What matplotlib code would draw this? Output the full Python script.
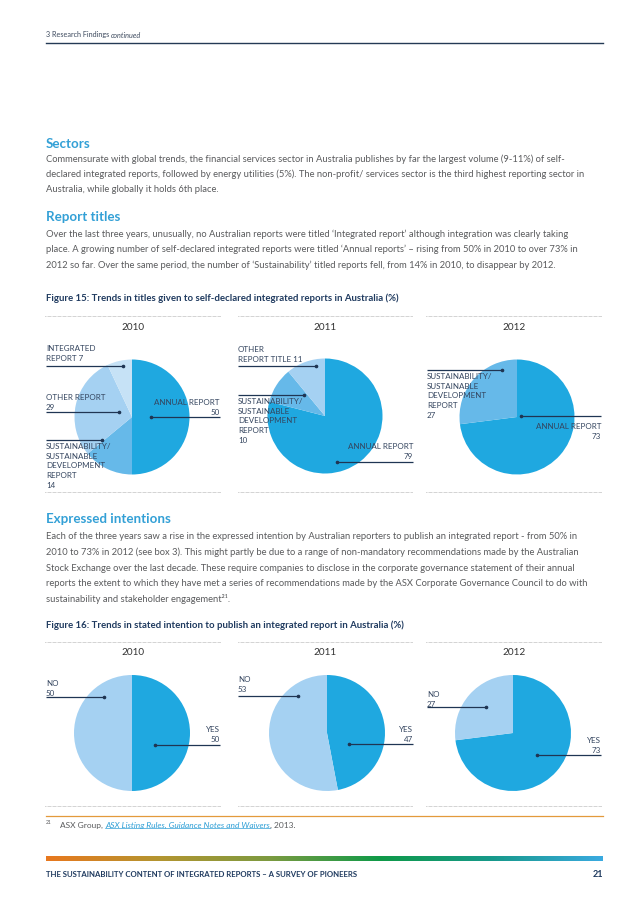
import matplotlib
matplotlib.use("Agg")
import matplotlib.pyplot as plt
from matplotlib.colors import LinearSegmentedColormap
import numpy as np

# ---------------------------------------
# data
# ---------------------------------------
years = ["2010", "2011", "2012"]

# Figure 15: titles given to self-declared integrated reports (%)
title_cats = [
    ["ANNUAL", "SUSTAINABILITY", "OTHER", "INTEGRATED"],
    ["ANNUAL", "SUSTAINABILITY", "OTHER_TITLE"],
    ["ANNUAL", "SUSTAINABILITY"],
]
title_vals = [
    [50, 14, 29, 7],
    [79, 10, 11],
    [73, 27],
]

# Figure 16: stated intention to publish an integrated report (%)
intent_yes = [50, 47, 73]
intent_no = [50, 53, 27]

label_text = {
    "ANNUAL": "ANNUAL REPORT\n{}",
    "SUSTAINABILITY": "SUSTAINABILITY/\nSUSTAINABLE\nDEVELOPMENT\nREPORT\n{}",
    "OTHER": "OTHER REPORT\n{}",
    "OTHER_TITLE": "OTHER\nREPORT TITLE {}",
    "INTEGRATED": "INTEGRATED\nREPORT {}",
    "YES": "YES\n{}",
    "NO": "NO\n{}",
}

sectors_text = [
    "Commensurate with global trends, the financial services sector in Australia publishes by far the largest volume (9-11%) of self-",
    "declared integrated reports, followed by energy utilities (5%). The non-profit/ services sector is the third highest reporting sector in",
    "Australia, while globally it holds 6th place.",
]
titles_text = [
    "Over the last three years, unusually, no Australian reports were titled \u2018Integrated report\u2019 although integration was clearly taking",
    "place. A growing number of self-declared integrated reports were titled \u2018Annual reports\u2019 \u2013 rising from 50% in 2010 to over 73% in",
    "2012 so far. Over the same period, the number of \u2018Sustainability\u2019 titled reports fell, from 14% in 2010, to disappear by 2012.",
]
intent_text = [
    "Each of the three years saw a rise in the expressed intention by Australian reporters to publish an integrated report - from 50% in",
    "2010 to 73% in 2012 (see box 3). This might partly be due to a range of non-mandatory recommendations made by the Australian",
    "Stock Exchange over the last decade. These require companies to disclose in the corporate governance statement of their annual",
    "reports the extent to which they have met a series of recommendations made by the ASX Corporate Governance Council to do with",
    "sustainability and stakeholder engagement\u00b2\u00b9.",
]

# ---------------------------------------
# styles / layout (pixels on a 638 x 903 page)
# ---------------------------------------
W, H = 638, 903
FONT = ["Lato", "DejaVu Sans"]
BODY = "#5a5b5d"
HEAD = "#33a0d6"
NAVY = "#1f3a5f"
LABEL = "#34455f"
LEADER = "#1f3553"
BODY_SIZE = 6.75

colors = {
    "ANNUAL": "#1fa8e0",
    "SUSTAINABILITY": "#66b9e9",
    "OTHER": "#a5d1f2",
    "OTHER_TITLE": "#a5d1f2",
    "INTEGRATED": "#c6e2f6",
    "YES": "#1fa8e0",
    "NO": "#a5d1f2",
}

panel_x = [(45, 221), (238, 413), (426, 602)]

# label layout: text x, text top y, alignment, leader y, leader inner x
fig15_pies = [(132, 418), (325, 417), (517, 418)]
fig15_labels = [
    {"ANNUAL": (220, 399, "right", 418, 151),
     "SUSTAINABILITY": (46, 443, "left", 441, 102),
     "OTHER": (46, 394, "left", 413, 119),
     "INTEGRATED": (46, 345, "left", 367, 123)},
    {"ANNUAL": (413, 443, "right", 463, 337),
     "SUSTAINABILITY": (238, 398, "left", 396, 304),
     "OTHER_TITLE": (238, 346, "left", 367, 316)},
    {"ANNUAL": (601, 423, "right", 417, 521),
     "SUSTAINABILITY": (427, 373, "left", 371, 502)},
]
fig16_pies = [(132, 734), (327, 734), (513, 734)]
fig16_labels = [
    {"YES": (220, 726, "right", 746, 155), "NO": (46, 680, "left", 698, 104)},
    {"YES": (413, 726, "right", 745, 349), "NO": (238, 676, "left", 697, 298)},
    {"YES": (601, 737, "right", 756, 537), "NO": (427, 691, "left", 708, 486)},
]

fig = plt.figure(figsize=(W / 100, H / 100), dpi=100)
fig.patch.set_facecolor("white")


def draw_pie(cx, cy, r, cats, vals):
    ax = fig.add_axes([(cx - r) / W, 1 - (cy + r) / H, 2 * r / W, 2 * r / H])
    ax.pie(vals, colors=[colors[c] for c in cats], startangle=90,
           counterclock=False, radius=1, wedgeprops=dict(linewidth=0))
    ax.set_xlim(-1, 1)
    ax.set_ylim(-1, 1)
    ax.set_aspect("auto")
    ax.set_zorder(1)
    return ax


for i in range(3):
    cx, cy = fig15_pies[i]
    draw_pie(cx, cy, 57.5, title_cats[i], title_vals[i])
    cx, cy = fig16_pies[i]
    draw_pie(cx, cy, 58, ["YES", "NO"], [intent_yes[i], intent_no[i]])

# overlay page for all the text and rules
page = fig.add_axes([0, 0, 1, 1])
page.set_zorder(5)
page.patch.set_alpha(0)
page.axis("off")
renderer = fig.canvas.get_renderer()


def runs(x, y, parts, **kw):
    # draw text pieces one after another on one line
    spans = []
    for txt, style in parts:
        t = page.text(x, y, txt, family=FONT, va="center", **kw, **style)
        bb = t.get_window_extent(renderer)
        spans.append((x, x + bb.width))
        x += bb.width
    return spans


# header
runs(46, 35, [("3 Research Findings ", {}), ("continued", {"style": "italic"})],
     fontsize=5.2, color="#3d4a5e")
page.plot([46, 603], [44, 44], color="#243a55", lw=1.0)

# headings and body text
page.text(46, 144, "Sectors", family=FONT, fontsize=9.6, fontweight="bold", color=HEAD, va="center")
for k, line in enumerate(sectors_text):
    page.text(46, 159 + k * 15.5, line, family=FONT, fontsize=BODY_SIZE, color=BODY, va="center")

page.text(46, 217, "Report titles", family=FONT, fontsize=9.6, fontweight="bold", color=HEAD, va="center")
for k, line in enumerate(titles_text):
    page.text(46, 234 + k * 15.5, line, family=FONT, fontsize=BODY_SIZE, color=BODY, va="center")

page.text(46, 298, "Figure 15: Trends in titles given to self-declared integrated reports in Australia (%)",
          family=FONT, fontsize=6.9, fontweight="bold", color=NAVY, va="center")

page.text(46, 519, "Expressed intentions", family=FONT, fontsize=9.6, fontweight="bold", color=HEAD, va="center")
for k, line in enumerate(intent_text):
    page.text(46, 537 + k * 15.6, line, family=FONT, fontsize=BODY_SIZE, color=BODY, va="center")

page.text(46, 625, "Figure 16: Trends in stated intention to publish an integrated report in Australia (%)",
          family=FONT, fontsize=6.9, fontweight="bold", color=NAVY, va="center")


def panel_frame(top, bottom, title_y):
    for (x0, x1), yr in zip(panel_x, years):
        page.plot([x0, x1], [top, top], color="#9a9a9a", lw=0.6, ls=(0, (0.6, 0.9)))
        page.plot([x0, x1], [bottom, bottom], color="#9a9a9a", lw=0.6, ls=(0, (0.6, 0.9)))
        page.text((x0 + x1) / 2, title_y, yr, family=FONT, fontsize=7.2, color="#333333",
                  ha="center", va="center")


def pie_labels(layout, values):
    for cat, (x, ytop, ha, ly, xin) in layout.items():
        page.text(x, ytop, label_text[cat].format(values[cat]), family=FONT, fontsize=5.8,
                  color=LABEL, ha=ha, va="top", linespacing=1.45)
        page.plot([x, xin], [ly, ly], color=LEADER, lw=0.9, solid_capstyle="butt")
        page.plot([xin], [ly], "o", color=LEADER, ms=1.6)


panel_frame(317, 493, 328)
panel_frame(643, 807, 653)
for i in range(3):
    pie_labels(fig15_labels[i], dict(zip(title_cats[i], title_vals[i])))
    pie_labels(fig16_labels[i], {"YES": intent_yes[i], "NO": intent_no[i]})

# footnote
page.plot([46, 603], [817, 817], color="#e39a3c", lw=0.9)
page.text(46, 823, "21", family=FONT, fontsize=3.6, color=BODY, va="center")
spans = runs(60, 825, [("ASX Group, ", {"color": BODY}),
                       ("ASX Listing Rules, Guidance Notes and Waivers", {"color": "#2f9fd6", "style": "italic"}),
                       (", 2013.", {"color": BODY})], fontsize=6.0)
page.plot(list(spans[1]), [829.5, 829.5], color="#2f9fd6", lw=0.5)

# gradient rule
grad = LinearSegmentedColormap.from_list(
    "footer", ["#e8781e", "#b49530", "#7d9a40", "#0f9a48", "#17998a", "#3aaae0"])
page.imshow(np.linspace(0, 1, 256).reshape(1, -1), cmap=grad, aspect="auto",
            extent=(46, 603, 862, 857), interpolation="bilinear")

# footer
page.text(46, 875, "THE SUSTAINABILITY CONTENT OF INTEGRATED REPORTS \u2013 A SURVEY OF PIONEERS",
          family=FONT, fontsize=5.6, fontweight="bold", color=NAVY, va="center")
page.text(603, 875, "21", family=FONT, fontsize=6.6, fontweight="bold", color=NAVY, ha="right", va="center")

page.set_xlim(0, W)
page.set_ylim(H, 0)

fig.savefig("out.png", dpi=100)
